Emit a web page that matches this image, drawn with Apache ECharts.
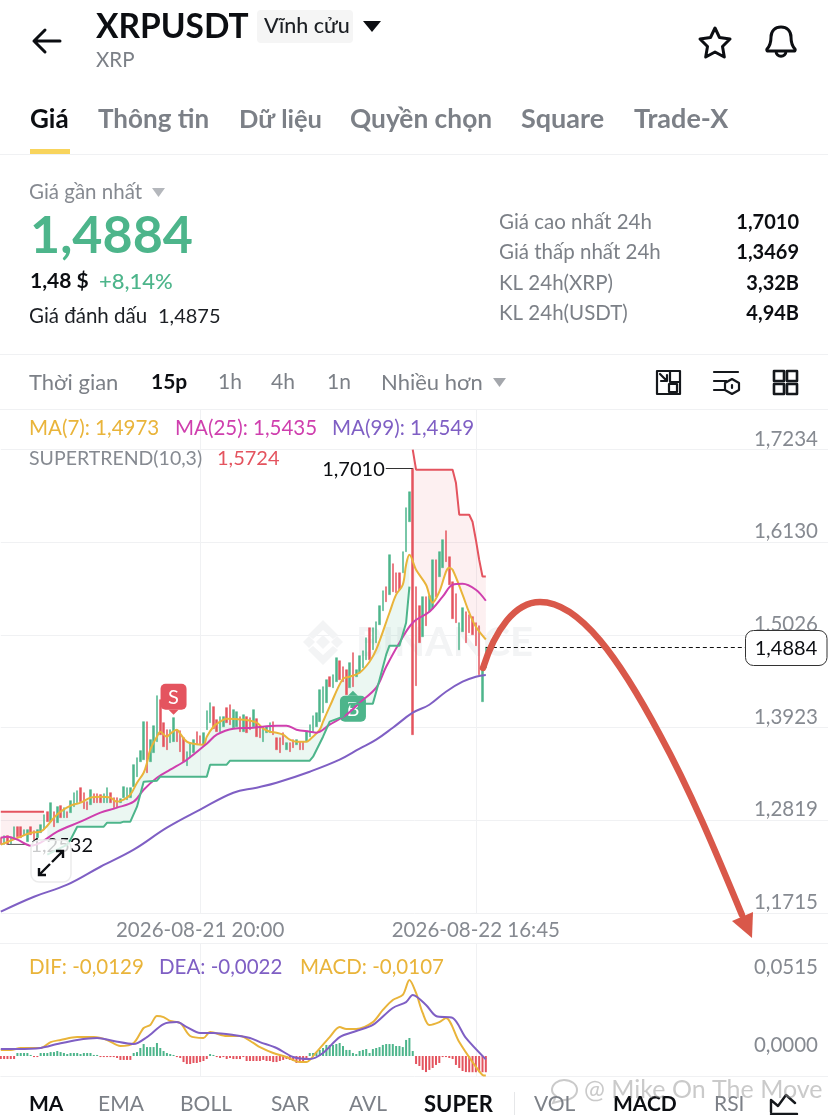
<!DOCTYPE html>
<html><head><meta charset="utf-8">
<script src="https://cdn.jsdelivr.net/npm/echarts@6/dist/echarts.min.js"></script>
<style>html,body{margin:0;padding:0;background:#fff}#c{width:828px;height:1115px}</style>
</head><body><div id="c"></div>
<script>
// ---- price ticks
const yTicks=[1.7234,1.6130,1.5026,1.3923,1.2819,1.1715];
const macdTicks=[0.0515,0];
const timeStart=Date.UTC(2026,7,21,5,0);
const xTickIdx=[60,143];
// ---- candles
const highs=[1.2612,1.2636,1.2636,1.2612,1.2743,1.2743,1.2743,1.2708,1.2708,1.2743,1.2696,1.2708,1.2767,1.2886,1.2922,1.3029,1.2922,1.2982,1.2994,1.2970,1.2922,1.3053,1.3148,1.3172,1.3208,1.3148,1.3041,1.3184,1.3136,1.3136,1.3125,1.3136,1.3208,1.3148,1.3089,1.3089,1.3077,1.3220,1.3208,1.3208,1.3482,1.3565,1.3649,1.3994,1.3994,1.3780,1.3946,1.4304,1.4256,1.3982,1.3899,1.3899,1.4042,1.3899,1.3887,1.3803,1.3637,1.3732,1.3780,1.3875,1.3827,1.3863,1.4125,1.4220,1.4173,1.4018,1.4054,1.4054,1.4161,1.4196,1.4137,1.4113,1.4054,1.4077,1.4054,1.4042,1.4137,1.4030,1.3946,1.3934,1.3934,1.3982,1.3994,1.3803,1.3803,1.3863,1.3744,1.3744,1.3780,1.3780,1.3756,1.3756,1.3875,1.3958,1.4065,1.4101,1.4375,1.4411,1.4494,1.4530,1.4554,1.4756,1.4720,1.4649,1.4613,1.4697,1.4816,1.4613,1.4780,1.4839,1.4994,1.5113,1.5113,1.5185,1.5376,1.5554,1.5602,1.5983,1.5876,1.5768,1.5768,1.6019,1.6543,1.6733,1.7010,1.5602,1.5376,1.5483,1.5483,1.5495,1.5923,1.5923,1.6019,1.6162,1.6269,1.5959,1.5661,1.5519,1.5173,1.5352,1.5304,1.5268,1.5245,1.5173,1.5137,1.4613,1.4884];
const lows=[1.2532,1.2532,1.2532,1.2540,1.2612,1.2624,1.2612,1.2636,1.2565,1.2648,1.2589,1.2612,1.2672,1.2708,1.2803,1.2803,1.2743,1.2791,1.2851,1.2851,1.2851,1.2910,1.2982,1.3029,1.3041,1.2958,1.2946,1.3005,1.3029,1.3029,1.3029,1.3029,1.3029,1.3029,1.2970,1.2970,1.3029,1.3089,1.3065,1.3089,1.3220,1.3339,1.3517,1.3541,1.3386,1.3517,1.3625,1.3756,1.3839,1.3696,1.3660,1.3744,1.3756,1.3756,1.3637,1.3517,1.3470,1.3565,1.3625,1.3720,1.3720,1.3720,1.3899,1.3982,1.3911,1.3875,1.3875,1.3934,1.3982,1.3958,1.3922,1.3934,1.3875,1.3875,1.3863,1.3899,1.3934,1.3815,1.3803,1.3756,1.3863,1.3863,1.3839,1.3660,1.3625,1.3720,1.3660,1.3637,1.3684,1.3720,1.3660,1.3660,1.3756,1.3815,1.3875,1.3934,1.3994,1.4101,1.4220,1.4411,1.4399,1.4470,1.4494,1.4470,1.4315,1.4399,1.4411,1.4530,1.4577,1.4637,1.4732,1.4732,1.4851,1.4935,1.5149,1.5316,1.5423,1.5507,1.5542,1.5530,1.5566,1.5768,1.6019,1.6376,1.3839,1.4423,1.4935,1.5006,1.5137,1.5304,1.5340,1.5483,1.5721,1.5828,1.5900,1.5625,1.5221,1.5173,1.4851,1.5066,1.4935,1.5054,1.5030,1.4899,1.4554,1.4232,1.4637];
const rising=[0,1,0,1,1,0,0,1,1,0,0,1,1,1,0,1,0,1,0,1,0,1,1,1,0,0,0,1,0,0,0,1,1,0,0,0,1,1,1,1,1,1,1,1,0,1,1,1,0,0,0,1,1,0,0,0,1,1,1,0,0,1,1,1,0,0,1,1,0,0,1,1,0,1,0,0,1,0,0,1,1,1,0,0,0,0,1,0,0,1,0,0,1,1,1,1,1,1,1,0,1,1,0,0,0,1,0,1,1,1,1,0,1,1,1,1,0,1,0,0,0,1,1,1,0,0,0,1,0,1,1,0,1,1,0,0,0,0,1,1,0,0,0,0,0,1,1];
// ---- overlays [candle index, price]
const ma7=[[0,1.2529],[3,1.2577],[6,1.2624],[9,1.2672],[12,1.2684],[14,1.2755],[16,1.2851],[18,1.2922],[21,1.2994],[24,1.3029],[27,1.3089],[30,1.3101],[33,1.3089],[35,1.3041],[37,1.3065],[39,1.3125],[41,1.3267],[43,1.3386],[44,1.3505],[45,1.3660],[47,1.3815],[48,1.3875],[50,1.3815],[51,1.3851],[53,1.3899],[54,1.3851],[56,1.3756],[58,1.3732],[61,1.3720],[62,1.3815],[64,1.3934],[66,1.3994],[68,1.4030],[73,1.4018],[77,1.3982],[79,1.3911],[81,1.3875],[83,1.3863],[85,1.3839],[87,1.3780],[89,1.3756],[92,1.3756],[93,1.3780],[96,1.3899],[97,1.3994],[99,1.4173],[103,1.4506],[105,1.4530],[108,1.4577],[111,1.4708],[113,1.4851],[117,1.5292],[119,1.5507],[121,1.5625],[122,1.5864],[123,1.5983],[125,1.5804],[128,1.5625],[130,1.5411],[132,1.5542],[135,1.5828],[136,1.5804],[139,1.5507],[141,1.5292],[143,1.5125],[146,1.4973]];
const ma25=[[0,1.2612],[2,1.2624],[5,1.2589],[9,1.2517],[12,1.2553],[17,1.2684],[24,1.2803],[30,1.2910],[35,1.2970],[40,1.3041],[43,1.3184],[47,1.3327],[51,1.3422],[56,1.3541],[62,1.3732],[65,1.3839],[70,1.3911],[76,1.3922],[83,1.3946],[86,1.3946],[89,1.3899],[93,1.3875],[95,1.3863],[99,1.3958],[104,1.4077],[108,1.4220],[113,1.4399],[116,1.4649],[120,1.4935],[124,1.5173],[129,1.5304],[133,1.5483],[136,1.5625],[139,1.5637],[143,1.5566],[146,1.5435]];
const ma99=[[0,1.1731],[10,1.1909],[20,1.2052],[30,1.2266],[40,1.2469],[50,1.2731],[60,1.2946],[70,1.3148],[77,1.3208],[83,1.3267],[93,1.3398],[102,1.3541],[108,1.3672],[113,1.3780],[118,1.3922],[124,1.4101],[129,1.4196],[134,1.4351],[139,1.4470],[143,1.4530],[146,1.4549]];
const stGreen=[[14,1.2410],[20,1.2529],[21,1.2589],[23,1.2743],[31,1.2743],[32,1.2791],[36,1.2791],[37,1.2803],[39,1.2803],[41,1.2982],[43,1.3279],[47,1.3291],[48,1.3339],[62,1.3339],[63,1.3482],[68,1.3482],[69,1.3529],[93,1.3529],[94,1.3577],[97,1.3815],[99,1.3994],[103,1.4054],[105,1.4209],[112,1.4209],[114,1.4494],[116,1.4792],[117,1.4899],[120,1.4899],[122,1.5173],[123,1.5602]];
const stRedLeft=[[0,1.2922],[13,1.2922]];
const stRedRight=[[124,1.7234],[125,1.6996],[136,1.6996],[137,1.6841],[138,1.6459],[141,1.6459],[142,1.6376],[143,1.6162],[144,1.5923],[145,1.5724],[146,1.5724]];
// ---- MACD
const dif=[[0,.0040],[3,.0040],[6,.0053],[12,.0053],[15,.0092],[18,.0106],[23,.0125],[28,.0125],[32,.0106],[36,.0066],[40,.0086],[43,.0185],[45,.0205],[47,.0264],[49,.0257],[51,.0231],[54,.0218],[57,.0132],[61,.0119],[63,.0158],[68,.0132],[72,.0132],[76,.0086],[78,.0059],[82,.0020],[86,-.0007],[90,-.0040],[92,-.0040],[95,.0026],[99,.0125],[102,.0191],[104,.0178],[107,.0178],[112,.0224],[115,.0304],[118,.0370],[121,.0403],[123,.0502],[125,.0416],[127,.0284],[129,.0205],[132,.0224],[134,.0251],[138,.0092],[142,-.0040],[145,-.0125],[146,-.0129]];
const dea=[[0,.0046],[5,.0046],[12,.0053],[17,.0079],[23,.0106],[29,.0119],[34,.0099],[40,.0079],[44,.0125],[49,.0211],[53,.0224],[56,.0191],[60,.0152],[64,.0152],[70,.0139],[75,.0119],[78,.0092],[83,.0053],[88,-.0007],[93,-.0020],[97,.0020],[102,.0125],[107,.0165],[112,.0205],[118,.0317],[122,.0356],[124,.0403],[128,.0337],[131,.0264],[136,.0251],[140,.0119],[146,-.0022]];
const macdHist=[-.002,-.002,-.002,-.002,-.002,.002,.002,.002,.002,.0007,-.0007,-.0007,.002,.002,.002,.0026,.0026,.0033,.0026,.002,.0013,.002,.002,.002,.0013,.002,.002,.002,.0007,.0007,-.0007,-.0007,-.0007,-.0007,-.0007,-.0013,-.0026,-.0026,-.0026,-.0026,.002,.0026,.0053,.0079,.0059,.0059,.0059,.0086,.0053,.0033,.002,.0013,.0007,-.0007,-.0013,-.004,-.0053,-.0053,-.0046,-.0046,-.004,-.0033,-.002,.0013,.0007,-.0007,-.0013,-.0007,-.002,-.0013,-.002,-.002,-.002,-.0007,-.0033,-.0033,-.0033,-.0033,-.0033,-.0026,-.0033,-.0033,-.004,-.004,-.0033,-.0026,-.002,-.0026,-.0033,-.0046,-.004,-.0033,-.002,.002,.002,.0026,.004,.0053,.0073,.0073,.0073,.0079,.0086,.0066,.004,.004,.002,.0013,.0033,.004,.0046,.002,.0046,.0053,.0059,.0073,.0079,.0079,.0079,.0066,.0066,.0059,.0106,.0119,.0033,-.0053,-.0066,-.0092,-.0106,-.0092,-.0079,-.0059,-.0046,-.0007,-.0007,-.0013,-.002,-.0059,-.0079,-.0099,-.0106,-.0107,-.0107,-.0107,-.0107,-.0107,-.0107];
const lastPrice=1.4884, highPrice=1.7010, lowPrice=1.2532;
const highIdx=124, lowIdx=2, sellIdx=52, sellPrice=1.4292, buyIdx=106, buyPrice=1.4149;

const F='Lato,"Noto Sans",sans-serif';
const GREEN='#4DB58B',RED='#E4545F',YEL='#E9B43A',MAG='#CF3FAE',PUR='#7F5FC4',GRAY='#7C8087',LINE='#F0F1F3',WM='#F3F4F5';
const cats=[];for(let i=0;i<250;i++){const d=new Date(timeStart+i*9e5);const p=n=>String(n).padStart(2,'0');cats.push(`${d.getUTCFullYear()}-${p(d.getUTCMonth()+1)}-${p(d.getUTCDate())} ${p(d.getUTCHours())}:${p(d.getUTCMinutes())}`);}
const candles=highs.map((h,i)=>rising[i]?[lows[i],h,lows[i],h]:[h,lows[i],lows[i],h]);
const fmt=v=>v.toFixed(4).replace('.',',');

const T=(x,y,text,size,fill,w,align)=>({type:'text',z:50,style:{x,y:y+1.5,text,fill,fontSize:size,fontFamily:F,fontWeight:w||400,align:align||'left',verticalAlign:'middle'}});
const R=(x,y,width,height,fill,r)=>({type:'rect',z:50,shape:{x,y,width,height,r:r||0},style:{fill}});
const Tri=(pts,fill)=>({type:'polygon',z:50,shape:{points:pts},style:{fill}});
const Dia=(cx,cy,r)=>({type:'polygon',z:1,shape:{points:[[cx,cy-r],[cx+r,cy],[cx,cy+r],[cx-r,cy]]},style:{fill:WM}});
const ui=[
 T(96,26,'XRPUSDT',33.5,'#0c0e12',700),
 R(257,10,96,33,'#F5F5F5',4),T(264,25,'Vĩnh cửu',21.5,'#1c1f24',500),Tri([[363,21],[381,21],[372,32]],'#0c0e12'),
 T(96,59,'XRP',20.5,GRAY),
 T(30,118,'Giá',26,'#0c0e12',700),T(98,118,'Thông tin',26,GRAY,700),T(239,118,'Dữ liệu',25.5,GRAY,700),T(350,118,'Quyền chọn',26.3,GRAY,700),T(521,118,'Square',27,GRAY,700),T(634,118,'Trade-X',27,GRAY,700),
 R(30,149,40,5,'#F8D45C'),R(0,154,828,1,LINE),
 T(29,191,'Giá gần nhất',20.5,'#868A91'),Tri([[152,188],[165,188],[158.5,197]],'#B4B7BC'),
 T(30,235,'1,4884',52,GREEN,700),
 T(30,280,'1,48 $',21,'#0c0e12',700),T(99,280,'+8,14%',22,GREEN,500),
 T(29,315,'Giá đánh dấu',20.5,'#1c1f24'),T(158,315,'1,4875',20,'#1c1f24'),
 T(499,221,'Giá cao nhất 24h',20.5,GRAY),T(499,251,'Giá thấp nhất 24h',20.5,GRAY),T(499,282,'KL 24h(XRP)',20.5,GRAY),T(499,312,'KL 24h(USDT)',20.5,GRAY),
 T(799,221,'1,7010',20,'#0c0e12',700,'right'),T(799,251,'1,3469',20,'#0c0e12',700,'right'),T(799,282,'3,32B',20,'#0c0e12',700,'right'),T(799,312,'4,94B',20,'#0c0e12',700,'right'),
 R(0,354,828,1,LINE),
 T(29,381,'Thời gian',22,GRAY),T(151,381,'15p',21,'#0c0e12',700),T(218,381,'1h',21,GRAY),T(271,381,'4h',21,GRAY),T(327,381,'1n',21,GRAY),T(381,381,'Nhiều hơn',22,GRAY),Tri([[493,378],[506,378],[499.5,387]],'#A4A7AC'),
 R(0,409,828,1,LINE),
 T(29,427,'MA(7): 1,4973',20.5,YEL),T(175,427,'MA(25): 1,5435',20.5,MAG),T(332,427,'MA(99): 1,4549',20.5,PUR),
 T(29,457,'SUPERTREND(10,3)',19.5,'#868A91'),T(217,457,'1,5724',20,RED),
 R(0,943,828,1,LINE),
 T(29,966,'DIF: -0,0129',20.5,YEL),T(159,966,'DEA: -0,0022',20.5,PUR),T(300,966,'MACD: -0,0107',20.5,YEL),
 T(29,1103,'MA',21,'#0c0e12',700),T(98,1103,'EMA',21,GRAY),T(180,1103,'BOLL',21,GRAY),T(271,1103,'SAR',21,GRAY),T(349,1103,'AVL',21,GRAY),T(424,1103,'SUPER',22,'#0c0e12',700),
 R(514,1092,1,23,'#E6E7E9'),
 T(534,1103,'VOL',21,GRAY),T(613,1103,'MACD',21,'#0c0e12',700),T(714,1103,'RSI',21,GRAY),
 {type:'text',z:60,style:{x:584,y:1090,text:'@ Mike On The Move',fill:'rgba(150,150,150,.5)',fontSize:25,fontFamily:F,align:'left',verticalAlign:'middle'}},
 {type:'text',z:1,style:{x:356,y:643,text:'BINANCE',fill:WM,fontSize:40,fontWeight:700,fontFamily:F,align:'left',verticalAlign:'middle'}},
 Dia(323,642,7),Dia(309,642,6),Dia(337,642,6),
 {type:'polygon',z:1,shape:{points:[[323,620],[338,635],[333,639],[323,630],[313,639],[308,635]]},style:{fill:WM}},
 {type:'polygon',z:1,shape:{points:[[323,665],[338,650],[333,646],[323,655],[313,646],[308,650]]},style:{fill:WM}}
];

// pathData icons and the drawn arrow, in page space
const iconPaths=[
 {d:'M60 41H34M45 30L34 41L45 52',w:3,s:'#0c0e12'},
 {d:'M715 28L719.5 37.5L730 39L722.5 46.5L724.3 57L715 52L705.7 57L707.5 46.5L700 39L710.5 37.5Z',w:3,s:'#0c0e12'},
 {d:'M767 49C771 45 771 41 771 37C771 31 775 27 781 27C787 27 791 31 791 37C791 41 791 45 795 49C796 51 795 51 793 51H769C767 51 766 51 767 49ZM776 51C776 58 786 58 786 51',w:3,s:'#0c0e12'},
 {d:'M657 371H680V394H657ZM670 372V382H680M660 374L667 381M667 375V381H661M669 384H677V392H669Z',w:2.2,s:'#15181c'},
 {d:'M714 372H738M714 381H726M714 390H724M732 379L739 383V390L732 394L725 390V383ZM732 385V388',w:2.2,s:'#15181c'},
 {d:'M774 371H784V381H774ZM787 371H797V381H787ZM774 384H784V394H774ZM787 384H797V394H787Z',w:2.6,s:'#15181c'},
 {d:'M771 1112V1100L778 1106L786 1095L795 1103M771 1114H797',w:2.4,s:'#15181c'}
];
const arrowCurve='M483 668C495 630 515 602 540 602C580 602 620 660 660 735C690 790 715 850 742 915';

function overlayPaths(){
 const ch=[];
 iconPaths.forEach(p=>ch.push({type:'path',shape:{pathData:p.d},style:{fill:'none',stroke:p.s,lineWidth:p.w,lineCap:'round',lineJoin:'round'}}));
 ch.push({type:'rect',shape:{x:31,y:840,width:40,height:42,r:8},style:{fill:'rgba(255,255,255,.78)',stroke:'#ECECEC',lineWidth:1.5}});
 ch.push({type:'path',shape:{pathData:'M39 875L50 864M39 868V875H46M52 862L63 851M56 851H63V858'},style:{fill:'none',stroke:'#0c0e12',lineWidth:2.4}});
 ch.push({type:'path',shape:{pathData:'M564 1080C571 1080 577 1084 577 1090C577 1096 571 1100 564 1100L553 1103L556 1096C553 1094 552 1092 552 1090C552 1084 558 1080 564 1080Z'},style:{fill:'none',stroke:'rgba(150,150,150,.5)',lineWidth:2}});
 ch.push({type:'path',shape:{pathData:arrowCurve},style:{fill:'none',stroke:'#D9584A',lineWidth:6.5,lineCap:'round'}});
 ch.push({type:'polygon',shape:{points:[[732,921],[753,912],[752,938]]},style:{fill:'#D9584A'}});
 return {type:'group',children:ch};
}
function poly(api,top,bot,fill){
 const pts=top.map(p=>api.coord(p)).concat(bot.slice().reverse().map(p=>api.coord(p)));
 return {type:'polygon',shape:{points:pts},style:{fill}};
}
function fills(params,api){
 const between=(a,b)=>ma7.filter(p=>p[0]>=a&&p[0]<=b);
 return {type:'group',children:[
  poly(api,between(14,123),stGreen,'rgba(77,181,139,.11)'),
  poly(api,stRedLeft,[[0,1.2529]].concat(between(1,13)),'rgba(228,84,95,.09)'),
  poly(api,stRedRight,[[124,1.5400]].concat(between(125,146)),'rgba(228,84,95,.09)')
 ]};
}
function badge(api,idx,price,letter,color,up){
 const c=api.coord([idx,price]),x=c[0],y=c[1];
 const tip=up?`M${x-5} ${y-13}L${x} ${y-18}L${x+5} ${y-13}Z`:`M${x-5} ${y+13}L${x} ${y+18}L${x+5} ${y+13}Z`;
 return [{type:'rect',shape:{x:x-13,y:y-13,width:26,height:26,r:5},style:{fill:color}},
  {type:'path',shape:{pathData:tip},style:{fill:color}},
  {type:'text',style:{x,y:y+1,text:letter,fill:'#fff',fontSize:20,fontFamily:F,align:'center',verticalAlign:'middle'}}];
}
function notes(params,api){
 const h=api.coord([highIdx,highPrice]),l=api.coord([lowIdx,lowPrice]),p=api.coord([146,lastPrice]);
 const py=Math.round(p[1])+0.5;
 return {type:'group',children:[
  {type:'line',shape:{x1:h[0],y1:h[1],x2:h[0]-27,y2:h[1]},style:{stroke:'#333',lineWidth:1}},
  {type:'text',style:{x:h[0]-28,y:h[1]+1,text:fmt(highPrice),fill:'#0c0e12',fontSize:20,fontFamily:F,align:'right',verticalAlign:'middle'}},
  {type:'line',shape:{x1:l[0],y1:l[1],x2:l[0]+21,y2:l[1]},style:{stroke:'#555',lineWidth:1}},
  {type:'text',style:{x:l[0]+23,y:l[1]+1,text:fmt(lowPrice),fill:'#0c0e12',fontSize:20,fontFamily:F,align:'left',verticalAlign:'middle'}},
  ...badge(api,sellIdx,sellPrice,'S',RED,false),
  ...badge(api,buyIdx,buyPrice,'B',GREEN,true),
  {type:'line',shape:{x1:p[0],y1:py,x2:745,y2:py},style:{stroke:'#111',lineWidth:1,lineDash:[4,3]}},
  {type:'rect',shape:{x:745.5,y:py-17,width:81.5,height:35,r:8},style:{fill:'#fff',stroke:'#333',lineWidth:1}},
  {type:'text',style:{x:786,y:py+1,text:fmt(lastPrice),fill:'#0c0e12',fontSize:20,fontFamily:F,align:'center',verticalAlign:'middle'}}
 ]};
}
const ln=(name,data,color,smooth,xi)=>({type:'line',name,data,xAxisIndex:xi||0,yAxisIndex:xi||0,symbol:'none',smooth:smooth||false,z:4,lineStyle:{color,width:2},clip:true});

const chart=echarts.init(document.getElementById('c'),null,{renderer:'canvas'});
const xBase={type:'category',data:cats,boundaryGap:false,axisTick:{show:false},axisLine:{show:false},
 splitLine:{show:true,interval:i=>xTickIdx.includes(i),lineStyle:{color:LINE,width:1}}};
const yLab=(vals)=>({inside:true,margin:10,customValues:vals,verticalAlign:'bottom',padding:[0,0,0,0],color:'#868A91',fontSize:20.5,fontFamily:F,formatter:fmt});
chart.setOption({
 animation:false,backgroundColor:'#fff',
 grid:[{left:0.8,top:410,width:829.17,height:503},{left:0.8,top:943,width:829.17,height:133}],
 xAxis:[
  {...xBase,gridIndex:0,axisLabel:{show:true,interval:i=>xTickIdx.includes(i),color:'#868A91',fontSize:20.5,fontFamily:F,margin:7,hideOverlap:false}},
  {...xBase,gridIndex:1,axisLabel:{show:false},axisLine:{show:true,onZero:false,lineStyle:{color:LINE}}}
 ],
 yAxis:[
  {gridIndex:0,type:'value',position:'right',min:1.1715,max:1.7707,axisLine:{show:false},
   axisTick:{show:false,customValues:yTicks},axisLabel:yLab(yTicks),
   splitLine:{show:true,lineStyle:{color:LINE,width:1}}},
  {gridIndex:1,type:'value',position:'right',min:-0.0132,max:0.0746,axisLine:{show:false},
   axisTick:{show:false,customValues:macdTicks},axisLabel:yLab(macdTicks),
   splitLine:{show:false}}
 ],
 graphic:{elements:ui},
 series:[
  {type:'custom',name:'fills',coordinateSystem:'cartesian2d',xAxisIndex:0,yAxisIndex:0,data:[[0,1.5]],renderItem:fills,z:1,silent:true},
  {type:'candlestick',name:'XRPUSDT',data:candles,xAxisIndex:0,yAxisIndex:0,barWidth:2,z:2,
   itemStyle:{color:GREEN,color0:RED,borderColor:GREEN,borderColor0:RED,borderWidth:0.5}},
  {type:'custom',name:'notes',coordinateSystem:'cartesian2d',xAxisIndex:0,yAxisIndex:0,data:[[0,1.5]],renderItem:notes,z:3,silent:true},
  ln('MA7',ma7,YEL,0.35),ln('MA25',ma25,MAG,0.35),ln('MA99',ma99,PUR,0.4),
  ln('SuperTrend up',stGreen,GREEN),ln('SuperTrend down',stRedLeft,RED),ln('SuperTrend down 2',stRedRight,RED),
  {type:'bar',name:'MACD',data:macdHist.map(v=>({value:v,itemStyle:{color:v>=0?GREEN:RED}})),xAxisIndex:1,yAxisIndex:1,barWidth:2,z:2},
  ln('DIF',dif,YEL,0.3,1),ln('DEA',dea,PUR,0.3,1),
  {type:'custom',name:'overlay',coordinateSystem:'none',data:[[0]],renderItem:overlayPaths,z:20,silent:true}
 ]
});
</script></body></html>
